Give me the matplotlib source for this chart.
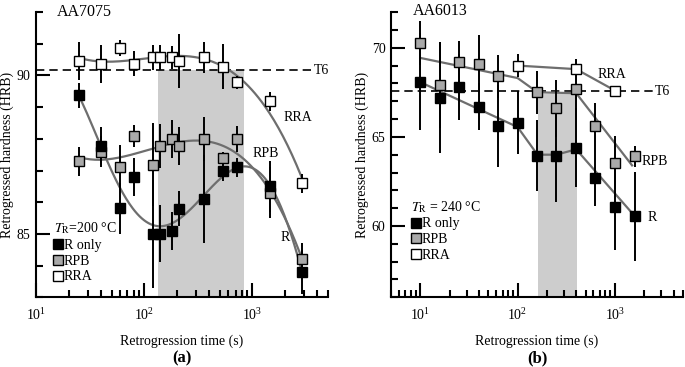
import numpy as np
import matplotlib
matplotlib.use('Agg')
import matplotlib.pyplot as plt
from matplotlib.lines import Line2D
from matplotlib.ticker import LogLocator, MultipleLocator, NullFormatter

plt.rcParams['font.family'] = 'Liberation Serif'
plt.rcParams['mathtext.fontset'] = 'stix'

# ---- panel (a): AA7075, TR = 200 C ----
t_a = [25, 40, 60, 80, 120, 140, 180, 210, 360, 540, 720, 1440, 2880]
r_a = [89.37, 87.76, 85.81, 86.80, 85.00, 85.00, 85.10, 85.80, 86.10, 86.97, 87.10, 86.50, 83.80]
r_a_err = [0.4, 0.6, 0.8, 0.6, 1.7, 0.9, 0.6, 0.55, 1.4, 0.3, 0.3, 0.8, 0.7]
rpb_a = [87.29, 87.60, 87.10, 88.10, 87.19, 87.78, 88.00, 87.78, 88.00, 87.40, 88.00, 86.30, 84.20]
rpb_a_err = [0.45, 0.5, 0.7, 0.35, 1.3, 0.7, 0.6, 0.6, 0.7, 0.2, 0.4, 0.8, 0.5]
rra_a = [90.47, 90.37, 90.87, 90.37, 90.57, 90.57, 90.57, 90.47, 90.57, 90.28, 89.78, 89.19, 86.60]
rra_a_err = [0.6, 0.6, 0.25, 0.4, 0.4, 0.4, 0.35, 0.85, 0.5, 0.7, 0.2, 0.3, 0.3]
t6_a = 90.16
shade_a = [135, 840]

# ---- panel (b): AA6013, TR = 240 C ----
t_b = [10, 16, 25, 40, 63, 100, 160, 250, 400, 630, 1000, 1600]
r_b = [68.10, 67.20, 67.80, 66.70, 65.60, 65.80, 63.94, 63.94, 64.40, 62.70, 61.05, 60.55]
r_b_err = [2.7, 3.1, 1.85, 1.3, 2.3, 1.75, 2.0, 2.6, 2.2, 1.6, 2.4, 2.5]
t_b_rpb = [10, 16, 25, 40, 63, 160, 250, 400, 630, 1000, 1600]
rpb_b = [70.26, 67.90, 69.20, 69.10, 68.40, 67.50, 66.60, 67.67, 65.60, 63.56, 63.90]
rpb_b_err = [1.25, 2.4, 1.2, 1.6, 1.2, 1.2, 1.6, 1.7, 1.3, 1.5, 0.6]
t_b_rra = [100, 400, 1000]
rra_b = [69.00, 68.78, 67.57]
rra_b_err = [0.65, 0.3, 0.1]
# piecewise trend lines
r_b_line_t = [10, 100, 160, 250, 400, 1600]
r_b_line = [68.07, 65.55, 64.0, 64.0, 64.3, 60.55]
rpb_b_line_t = [10, 100, 160, 400, 1500]
rpb_b_line = [69.43, 68.3, 67.5, 67.45, 63.4]
rra_b_line_t = [100, 400, 1000]
rra_b_line = [69.0, 68.8, 67.6]
t6_b = 67.56
shade_b = [162, 408]

GRAY = '#a9a9a9'
LINE = '#6e6e6e'
SHADE = '#cdcdcd'
FS = 10


def fit_curve(t, v, deg):
    lt = np.log10(t)
    p = np.polyfit(lt, v, deg)
    xx = np.linspace(lt[0], lt[-1], 200)
    return 10 ** xx, np.polyval(p, xx)


def points(ax, t, v, e, face):
    ax.errorbar(t, v, yerr=e, fmt='s', ms=6.5, mfc=face, mec='black', mew=1.0,
                ecolor='black', elinewidth=1.4, capsize=0, zorder=4)


def style(ax, xlim, ylim, major_y):
    ax.set_xscale('log')
    ax.set_xlim(*xlim)
    ax.set_ylim(*ylim)
    ax.spines['top'].set_visible(False)
    ax.spines['right'].set_visible(False)
    for s in ('left', 'bottom'):
        ax.spines[s].set_linewidth(1.5)
    ax.yaxis.set_major_locator(MultipleLocator(major_y))
    ax.yaxis.set_minor_locator(MultipleLocator(1))
    ax.xaxis.set_major_locator(LogLocator(base=10, numticks=10))
    ax.xaxis.set_minor_locator(LogLocator(base=10, subs=np.arange(2, 10), numticks=20))
    ax.xaxis.set_minor_formatter(NullFormatter())
    ax.tick_params(which='major', direction='in', length=10, width=1.5, labelsize=FS, pad=7)
    ax.tick_params(which='minor', direction='in', length=5, width=1.5)
    ax.tick_params(axis='y', which='major', pad=4)
    ax.set_xlabel('Retrogression time (s)', fontsize=FS)
    ax.set_ylabel('Retrogressed hardness (HRB)', fontsize=FS, va='center')
    ax.xaxis.set_label_coords(0.5, -0.13)
    ax.yaxis.set_label_coords(-0.098, 0.5)


def legend(ax, title, anchor):
    h = [Line2D([], [], ls='', marker='s', ms=7, mfc=c, mec='black', mew=1.0)
         for c in ('black', GRAY, 'white')]
    lg = ax.legend(h, ['R only', 'RPB', 'RRA'], title=title, loc='upper left',
                   bbox_to_anchor=anchor, frameon=False, fontsize=FS,
                   title_fontsize=FS, handlelength=0.6, handletextpad=0.15,
                   labelspacing=0.2, borderpad=0, borderaxespad=0)
    lg._legend_box.align = 'left'


fig = plt.figure(figsize=(6.85, 3.67), dpi=100)
ax1 = fig.add_axes([0.0526, 0.19, 0.4262, 0.777])
ax2 = fig.add_axes([0.5708, 0.19, 0.4262, 0.777])

# panel (a)
style(ax1, (10, 5000), (83, 92), 5)
ax1.fill_between(shade_a, 83, t6_a, color=SHADE, lw=0, zorder=0)
ax1.plot([10, 3600], [t6_a, t6_a], ls=(0, (5, 3)), color='black', lw=1.2, zorder=1)
for v, d in ((rra_a, 3), (rpb_a, 3), (r_a, 5)):
    xx, yy = fit_curve(t_a, v, d)
    ax1.plot(xx, yy, color=LINE, lw=1.6, zorder=2)
points(ax1, t_a, rpb_a, rpb_a_err, GRAY)
points(ax1, t_a, rra_a, rra_a_err, 'white')
points(ax1, t_a, r_a, r_a_err, 'black')
ax1.text(3670, t6_a, 'T6', fontsize=FS, va='center', ha='left')
ax1.text(1940, 88.66, 'RRA', fontsize=FS, va='center')
ax1.text(1000, 87.53, 'RPB', fontsize=FS, va='center')
ax1.text(1820, 84.9, 'R', fontsize=FS, va='center')
ax1.text(15.6, 92.0, 'AA7075', fontsize=11.5, va='center', clip_on=False)
legend(ax1, r'$T_{\rm R}$=200 °C', (0.06, 0.27))
ax1.text(0.5, -0.215, '(a)', transform=ax1.transAxes, fontsize=12,
         fontweight='bold', ha='center', va='center')

# panel (b)
style(ax2, (5, 5000), (56, 72), 5)
ax2.fill_between(shade_b, 56, 67.42, color=SHADE, lw=0, zorder=0)
ax2.plot([5, 2450], [t6_b, t6_b], ls=(0, (5, 3)), color='black', lw=1.2, zorder=1)
ax2.plot(r_b_line_t, r_b_line, color=LINE, lw=1.6, zorder=2)
ax2.plot(rpb_b_line_t, rpb_b_line, color=LINE, lw=1.6, zorder=2)
ax2.plot(rra_b_line_t, rra_b_line, color=LINE, lw=1.6, zorder=2)
points(ax2, t_b_rpb, rpb_b, rpb_b_err, GRAY)
points(ax2, t_b_rra, rra_b, rra_b_err, 'white')
points(ax2, t_b, r_b, r_b_err, 'black')
ax2.text(2570, t6_b, 'T6', fontsize=FS, va='center', ha='left')
ax2.text(670, 68.5, 'RRA', fontsize=FS, va='center')
ax2.text(1890, 63.6, 'RPB', fontsize=FS, va='center')
ax2.text(2140, 60.5, 'R', fontsize=FS, va='center')
ax2.text(8.3, 72.05, 'AA6013', fontsize=11.5, va='center', clip_on=False)
legend(ax2, r'$T_{\rm R}$ = 240 °C', (0.07, 0.345))
ax2.text(0.5, -0.215, '(b)', transform=ax2.transAxes, fontsize=12,
         fontweight='bold', ha='center', va='center')

fig.savefig('out.png', dpi=100)
